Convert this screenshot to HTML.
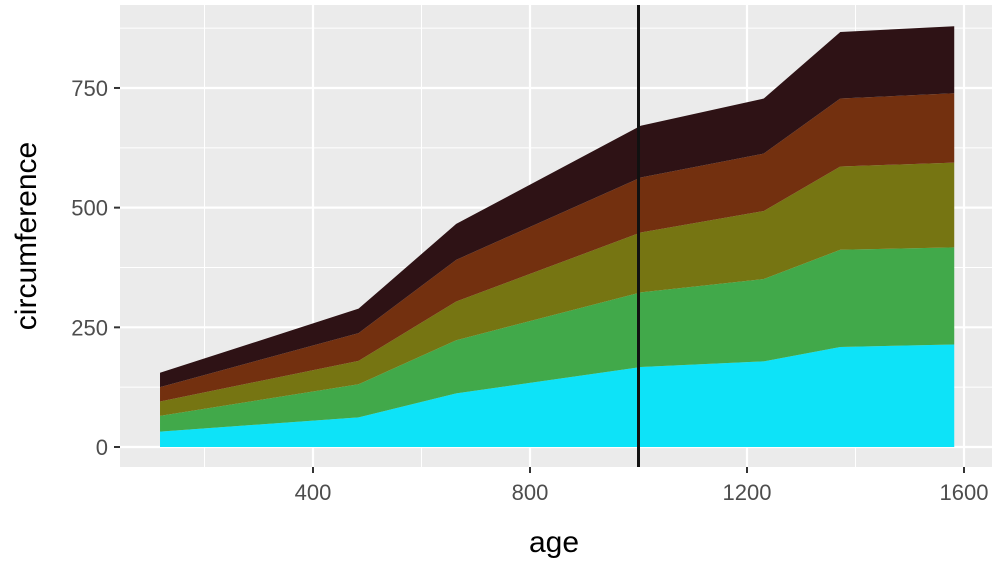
<!DOCTYPE html>
<html><head><meta charset="utf-8"><style>
body{margin:0;background:#fff;font-family:"Liberation Sans",sans-serif;}
</style></head><body>
<svg width="999" height="563" id="chart" xmlns="http://www.w3.org/2000/svg"></svg>
<script>
const ages=[118,484,664,1004,1231,1372,1582];
const tree4=[32,62,112,167,179,209,214];
const tree2=[33,69,111,156,172,203,203];
const tree5=[30,49,81,125,142,174,177];
const tree1=[30,58,87,115,120,142,145];
const tree3=[30,51,75,108,115,139,140];
const seriesColors=["#0de3f8","#41a94a","#767512","#73300f","#2e1215"];
const xTicks=[400,800,1200,1600];
const yTicks=[0,250,500,750];
const vline=1000;
const NS="http://www.w3.org/2000/svg";
const svg=document.getElementById('chart');
const L=120,R=992,T=5,B=467;
const sx=v=>96+v*0.5425;
const sy=v=>447-v*0.4787;
function mk(tag,a){const e=document.createElementNS(NS,tag);for(const k in a)e.setAttribute(k,a[k]);svg.appendChild(e);return e;}
let bg=mk('rect',{x:L,y:T,width:R-L,height:B-T,fill:'#ebebeb'});


for(const v of [200,600,1000,1400]){let g=mk('line',{x1:sx(v),x2:sx(v),y1:T,y2:B,stroke:'#fff','stroke-width':1});

}
for(const v of [125,375,625,875]){let g=mk('line',{x1:L,x2:R,y1:sy(v),y2:sy(v),stroke:'#fff','stroke-width':1});

}
for(const v of xTicks){let g=mk('line',{x1:sx(v),x2:sx(v),y1:T,y2:B,stroke:'#fff','stroke-width':2.2});


let t=mk('line',{x1:sx(v),x2:sx(v),y1:B,y2:B+6,stroke:'#333','stroke-width':2});


let l=mk('text',{x:sx(v),y:B+33,'text-anchor':'middle','font-size':22,fill:'#4d4d4d'});l.textContent=v;

}
for(const v of yTicks){let g=mk('line',{x1:L,x2:R,y1:sy(v),y2:sy(v),stroke:'#fff','stroke-width':2.2});


let t=mk('line',{x1:L-6,x2:L,y1:sy(v),y2:sy(v),stroke:'#333','stroke-width':2});


let l=mk('text',{x:L-12,y:sy(v)+8,'text-anchor':'end','font-size':22,fill:'#4d4d4d'});l.textContent=v;

}
const series=[tree4,tree2,tree5,tree1,tree3];
let base=ages.map(()=>0);
series.forEach((s,i)=>{
  const top=base.map((b,j)=>b+s[j]);
  let pts=ages.map((a,j)=>sx(a)+','+sy(top[j]));
  for(let j=ages.length-1;j>=0;j--)pts.push(sx(ages[j])+','+sy(base[j]));
  let p=mk('polygon',{points:pts.join(' '),fill:seriesColors[i]});
  
  
  base=top;
});
let vl=mk('line',{x1:sx(vline),x2:sx(vline),y1:T,y2:B,stroke:'#111','stroke-width':3});


let xt=mk('text',{x:(L+R)/2-2,y:552,'text-anchor':'middle','font-size':30,fill:'#000'});xt.textContent='age';


let yt=mk('text',{x:0,y:0,'text-anchor':'middle','font-size':30,fill:'#000',transform:'translate(36,'+((T+B)/2)+') rotate(-90)'});yt.textContent='circumference';


</script>
</body></html>
